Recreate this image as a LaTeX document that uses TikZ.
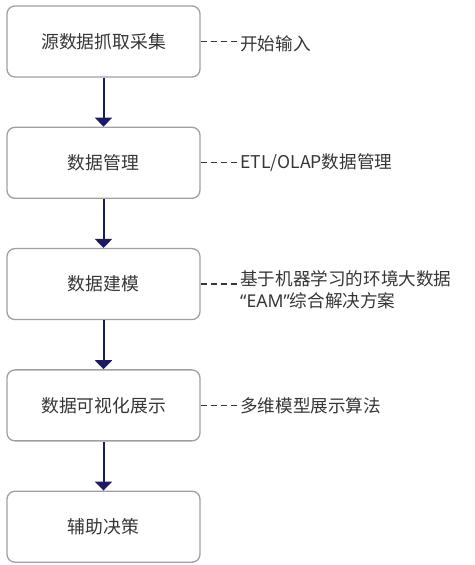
\documentclass[tikz,border=0pt]{standalone}
\usepackage{fontspec}
\setmainfont{Noto Sans CJK SC}
\newfontfamily\latinfont{Noto Sans}
\usepackage{xcolor}
\usepackage{tikz}
\usetikzlibrary{positioning,arrows.meta}

\definecolor{boxgray}{HTML}{A0A0A0}
\definecolor{flownavy}{HTML}{1C1A62}
\definecolor{inkgray}{HTML}{363636}

\tikzset{
  stage/.style={draw=boxgray, line width=1.3pt, rounded corners=8pt,
    minimum width=193pt, minimum height=71pt, inner sep=0pt,
    text=inkgray, font=\fontsize{17.8}{20}\selectfont},
  flow/.style={draw=flownavy, line width=2pt,
    -{Triangle[width=17pt,length=9pt,fill=flownavy]}},
  note/.style={inner sep=0pt, text=inkgray, align=left,
    font=\fontsize{17.6}{22}\selectfont},
  link/.style={draw=inkgray, line width=1.3pt, dash pattern=on 6pt off 4pt}
}

\begin{document}
\begin{tikzpicture}[x=1pt,y=1pt]
\useasboundingbox (0,0) rectangle (474,565);

\node[stage] (collect) at (103.5,523.5) {源数据抓取采集};
\node[stage, below=49pt of collect] (manage) {数据管理};
\node[stage, below=49pt of manage] (model) {数据建模};
\node[stage, below=49pt of model] (visual) {数据可视化展示};
\node[stage, below=49pt of visual] (decide) {辅助决策};

\draw[flow] (collect) -- (manage);
\draw[flow] (manage) -- (model);
\draw[flow] (model) -- (visual);
\draw[flow] (visual) -- (decide);

\node[note, anchor=west] (collectnote) at (240,521) {开始输入};
\node[note, anchor=west] (managenote) at (240,402) {ETL/OLAP数据管理};
\node[note, anchor=north west] (modelnote) at (240,294.5) {基于机器学习的环境大数据\\{\latinfont “EAM”}综合解决方案};
\node[note, anchor=west] (visualnote) at (240,159) {多维模型展示算法};

\draw[link] (collect.east) -- (collect.east -| collectnote.west);
\draw[link] (manage.east) -- (manage.east -| managenote.west);
\draw[link] (model.east) -- (model.east -| modelnote.west);
\draw[link] (visual.east) -- (visual.east -| visualnote.west);
\end{tikzpicture}
\end{document}
